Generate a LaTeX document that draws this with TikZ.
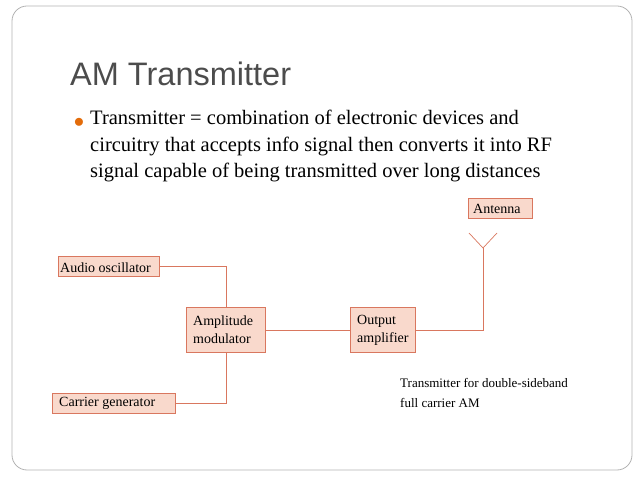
\documentclass[tikz,border=0pt]{standalone}
\usepackage{fontspec}
\setmainfont{Liberation Serif}
\newfontfamily\titlefont{Liberation Sans}
\begin{document}
\begin{tikzpicture}[x=1pt,y=-1pt,
  blk/.style={draw=boxline,fill=boxfill,line width=0.8pt,inner sep=0pt,anchor=north west},
  lbl/.style={anchor=west,align=left,inner sep=0pt,font=\fontsize{14}{18}\selectfont},
  wire/.style={draw=boxline,line width=0.7pt}]
\definecolor{boxline}{HTML}{D9775F}
\definecolor{boxfill}{HTML}{F9D9CC}
\definecolor{bul}{HTML}{E36C0A}
\useasboundingbox (0,0) rectangle (638,478);
\draw[gray!60,line width=0.8pt,rounded corners=15pt] (12,6) rectangle (632,470);
\node[anchor=base west,inner sep=0pt,text=black!70,font=\titlefont\fontsize{32.5}{36}\selectfont] (title) at (70,86) {AM Transmitter};
\node[text=bul,font=\fontsize{22}{22}\selectfont] (bullet) at (79,123) {$\bullet$};
\node[anchor=north west,align=left,inner sep=0pt,font=\fontsize{20.5}{26.5}\selectfont] (txt) at (90,110)
 {Transmitter = combination of electronic devices and\\circuitry that accepts info signal then converts it into RF\\signal capable of being transmitted over long distances};
\node[blk,minimum width=64pt,minimum height=20pt] (ant) at (468,198) {};
\node[lbl] at (473,209) {Antenna};
\node[blk,minimum width=101pt,minimum height=20pt] (aud) at (58,256) {};
\node[lbl] at (60,268) {Audio oscillator};
\node[blk,minimum width=79pt,minimum height=45pt] (mod) at (186,307) {};
\node[lbl] at (193,330) {Amplitude\\modulator};
\node[blk,minimum width=65pt,minimum height=45pt] (out) at (350,307) {};
\node[lbl] at (357,330) {Output\\amplifier};
\node[blk,minimum width=123pt,minimum height=20pt] (car) at (52,393) {};
\node[lbl] at (59,403) {Carrier generator};
\coordinate (tip) at (483,248);
\coordinate (l) at (469,233);
\coordinate (r) at (497,233);
\draw[wire] (aud.east) -| (mod.north);
\draw[wire] (car.east) -| (mod.south);
\draw[wire] (mod.east) -- (out.west);
\draw[wire] (out.east) -| (tip);
\draw[wire] (l) -- (tip) -- (r);
\node[anchor=north west,align=left,inner sep=0pt,font=\fontsize{13}{20}\selectfont] (cap) at (400,378) {Transmitter for double-sideband\\full carrier AM};
\end{tikzpicture}
\end{document}
